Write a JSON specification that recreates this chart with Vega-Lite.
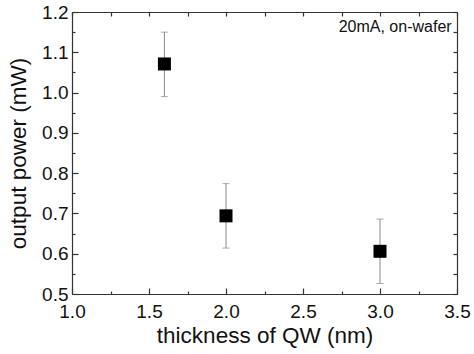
{
  "$schema": "https://vega.github.io/schema/vega-lite/v6.json",
  "width": 385,
  "height": 282,
  "autosize": {"type": "none"},
  "padding": {"left": 72, "top": 12, "right": 17, "bottom": 60},
  "background": "white",
  "config": {
    "view": {"stroke": null},
    "font": "Liberation Sans",
    "axis": {"grid": false, "domainColor": "#333", "tickColor": "#333", "domainWidth": 1.2, "tickWidth": 1.2, "labelColor": "#111", "titleColor": "#111", "labelFont": "Liberation Sans", "titleFont": "Liberation Sans", "titleFontWeight": "normal"}
  },
  "data": {
    "values": [
      {"t": 1.6, "p": 1.071, "lo": 0.990, "hi": 1.150},
      {"t": 2.0, "p": 0.694, "lo": 0.614, "hi": 0.774},
      {"t": 3.0, "p": 0.606, "lo": 0.526, "hi": 0.686}
    ]
  },
  "resolve": {"axis": {"x": "independent", "y": "independent"}},
  "layer": [
    {
      "mark": {"type": "rule", "color": "#888", "strokeWidth": 1},
      "encoding": {
        "x": {"field": "t", "type": "quantitative", "scale": {"domain": [1, 3.5], "nice": false, "zero": false},
          "axis": {"orient": "bottom", "title": "thickness of QW (nm)", "values": [1, 1.25, 1.5, 1.75, 2, 2.25, 2.5, 2.75, 3, 3.25, 3.5],
            "labelExpr": "round(datum.value*100) % 50 == 0 ? format(datum.value, '.1f') : ''",
            "tickSize": {"condition": {"test": "round(datum.value*100) % 50 == 0", "value": -6}, "value": -3},
            "labelFontSize": 19, "labelPadding": 14, "titleFontSize": 22.5, "titlePadding": 3, "labelFlush": false}},
        "y": {"field": "lo", "type": "quantitative", "scale": {"domain": [0.5, 1.2], "nice": false, "zero": false},
          "axis": {"orient": "left", "title": "output power (mW)", "values": [0.5, 0.55, 0.6, 0.65, 0.7, 0.75, 0.8, 0.85, 0.9, 0.95, 1.0, 1.05, 1.1, 1.15, 1.2],
            "labelExpr": "round(datum.value*100) % 10 == 0 ? format(datum.value, '.1f') : ''",
            "tickSize": {"condition": {"test": "round(datum.value*100) % 10 == 0", "value": -6}, "value": -3},
            "labelFontSize": 19, "labelPadding": 10, "titleFontSize": 22.5, "titlePadding": 11, "labelFlush": false}},
        "y2": {"field": "hi"}
      }
    },
    {
      "mark": {"type": "tick", "color": "#888", "thickness": 1, "size": 7, "orient": "horizontal"},
      "encoding": {
        "x": {"field": "t", "type": "quantitative", "axis": null},
        "y": {"field": "lo", "type": "quantitative", "axis": null}
      }
    },
    {
      "mark": {"type": "tick", "color": "#888", "thickness": 1, "size": 7, "orient": "horizontal"},
      "encoding": {
        "x": {"field": "t", "type": "quantitative", "axis": null},
        "y": {"field": "hi", "type": "quantitative", "axis": null}
      }
    },
    {
      "mark": {"type": "point", "shape": "square", "filled": true, "color": "#000", "size": 169, "opacity": 1},
      "encoding": {
        "x": {"field": "t", "type": "quantitative",
          "axis": {"orient": "top", "title": null, "labels": false, "values": [1, 1.25, 1.5, 1.75, 2, 2.25, 2.5, 2.75, 3, 3.25, 3.5], "tickSize": -4}},
        "y": {"field": "p", "type": "quantitative",
          "axis": {"orient": "right", "title": null, "labels": false, "values": [0.5, 0.55, 0.6, 0.65, 0.7, 0.75, 0.8, 0.85, 0.9, 0.95, 1.0, 1.05, 1.1, 1.15, 1.2], "tickSize": -4}}
      }
    },
    {
      "data": {"values": [{"label": "20mA, on-wafer", "x": 3.465, "y": 1.162}]},
      "mark": {"type": "text", "align": "right", "baseline": "middle", "fontSize": 16, "color": "#111"},
      "encoding": {
        "x": {"field": "x", "type": "quantitative", "axis": null},
        "y": {"field": "y", "type": "quantitative", "axis": null},
        "text": {"field": "label"}
      }
    }
  ]
}
